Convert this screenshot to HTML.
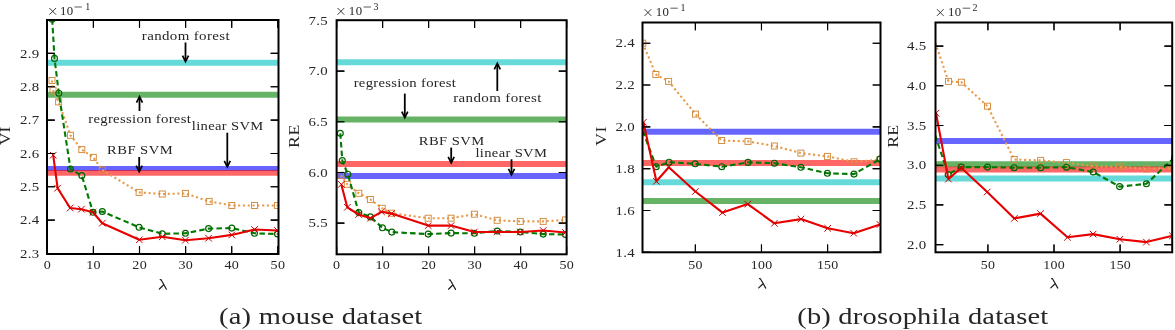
<!DOCTYPE html><html><head><meta charset="utf-8"><style>html,body{margin:0;padding:0;background:#fff;width:1175px;height:330px;overflow:hidden}svg{display:block;will-change:transform}text{font-family:"Liberation Serif", serif;fill:#262626}</style></head><body>
<svg width="1175" height="330" viewBox="0 0 1175 330">
<rect width="1175" height="330" fill="#fff"/>
<clipPath id="c1"><rect x="47" y="20" width="231.5" height="234"/></clipPath>
<path d="M47.3 254L47.3 246.2M47.3 20L47.3 27.8M93.4 254L93.4 246.2M93.4 20L93.4 27.8M139.5 254L139.5 246.2M139.5 20L139.5 27.8M185.6 254L185.6 246.2M185.6 20L185.6 27.8M231.7 254L231.7 246.2M231.7 20L231.7 27.8M277.8 254L277.8 246.2M277.8 20L277.8 27.8M47 253.5L54.8 253.5M278.5 253.5L270.7 253.5M47 220.15L54.8 220.15M278.5 220.15L270.7 220.15M47 186.8L54.8 186.8M278.5 186.8L270.7 186.8M47 153.45L54.8 153.45M278.5 153.45L270.7 153.45M47 120.1L54.8 120.1M278.5 120.1L270.7 120.1M47 86.75L54.8 86.75M278.5 86.75L270.7 86.75M47 53.4L54.8 53.4M278.5 53.4L270.7 53.4" stroke="#000" stroke-width="1.1" fill="none"/>
<line x1="47" y1="62.8" x2="278.5" y2="62.8" stroke="#00bfbf" stroke-opacity="0.6" stroke-width="6"/>
<line x1="47" y1="94.8" x2="278.5" y2="94.8" stroke="#008000" stroke-opacity="0.6" stroke-width="6"/>
<line x1="47" y1="168.5" x2="278.5" y2="168.5" stroke="#0000ff" stroke-opacity="0.6" stroke-width="5"/>
<line x1="47" y1="172.8" x2="278.5" y2="172.8" stroke="#ff0000" stroke-opacity="0.6" stroke-width="5.8"/>
<polyline points="52,80.5 53,90.2 58.6,101.9 70.5,135.3 81.8,149.6 93.3,157.4 102.3,170 139.1,192.4 162.3,194 185.4,193.4 209.2,201.4 231.8,205.5 254.5,205.5 277.5,205.5" fill="none" stroke="#e79a48" stroke-width="2.1" stroke-dasharray="2.1,2.7" stroke-linecap="butt" stroke-linejoin="round" clip-path="url(#c1)"/>
<g fill="none" stroke="#d38a3c" stroke-width="0.95" clip-path="url(#c1)">
<rect x="49" y="77.5" width="6" height="6"/>
<rect x="50" y="87.2" width="6" height="6"/>
<rect x="55.6" y="98.9" width="6" height="6"/>
<rect x="67.5" y="132.3" width="6" height="6"/>
<rect x="78.8" y="146.6" width="6" height="6"/>
<rect x="90.3" y="154.4" width="6" height="6"/>
<rect x="99.3" y="167" width="6" height="6"/>
<rect x="136.1" y="189.4" width="6" height="6"/>
<rect x="159.3" y="191" width="6" height="6"/>
<rect x="182.4" y="190.4" width="6" height="6"/>
<rect x="206.2" y="198.4" width="6" height="6"/>
<rect x="228.8" y="202.5" width="6" height="6"/>
<rect x="251.5" y="202.5" width="6" height="6"/>
<rect x="274.5" y="202.5" width="6" height="6"/>
</g>
<polyline points="52.2,19.2 54.5,58.4 58.8,93.2 70.5,169 81.8,175.6 93,212.3 102.3,211.5 139.1,227.3 162.3,233.8 185.4,233.3 208.6,228.6 231.8,228.1 254.5,233.3 277.5,234" fill="none" stroke="#007a00" stroke-width="2.1" stroke-dasharray="5.5,3.2" stroke-linecap="butt" stroke-linejoin="round" clip-path="url(#c1)"/>
<g fill="none" stroke="#006400" stroke-width="1.2" clip-path="url(#c1)">
<circle cx="52.2" cy="19.2" r="2.95"/>
<circle cx="54.5" cy="58.4" r="2.95"/>
<circle cx="58.8" cy="93.2" r="2.95"/>
<circle cx="70.5" cy="169" r="2.95"/>
<circle cx="81.8" cy="175.6" r="2.95"/>
<circle cx="93" cy="212.3" r="2.95"/>
<circle cx="102.3" cy="211.5" r="2.95"/>
<circle cx="139.1" cy="227.3" r="2.95"/>
<circle cx="162.3" cy="233.8" r="2.95"/>
<circle cx="185.4" cy="233.3" r="2.95"/>
<circle cx="208.6" cy="228.6" r="2.95"/>
<circle cx="231.8" cy="228.1" r="2.95"/>
<circle cx="254.5" cy="233.3" r="2.95"/>
<circle cx="277.5" cy="234" r="2.95"/>
</g>
<polyline points="53.2,155.2 57.6,188.2 70.2,208 81.4,209.2 93,212.3 102.3,223.2 139.3,239.8 162.3,236.8 185.4,240.2 208.6,238.2 231.8,234.9 254.5,229.5 277.5,230.5" fill="none" stroke="#e80000" stroke-width="2.1" stroke-linecap="butt" stroke-linejoin="round" clip-path="url(#c1)"/>
<path d="M49.9 151.9L56.5 158.5M49.9 158.5L56.5 151.9M54.3 184.9L60.9 191.5M54.3 191.5L60.9 184.9M66.9 204.7L73.5 211.3M66.9 211.3L73.5 204.7M78.1 205.9L84.7 212.5M78.1 212.5L84.7 205.9M89.7 209L96.3 215.6M89.7 215.6L96.3 209M99 219.9L105.6 226.5M99 226.5L105.6 219.9M136 236.5L142.6 243.1M136 243.1L142.6 236.5M159 233.5L165.6 240.1M159 240.1L165.6 233.5M182.1 236.9L188.7 243.5M182.1 243.5L188.7 236.9M205.3 234.9L211.9 241.5M205.3 241.5L211.9 234.9M228.5 231.6L235.1 238.2M228.5 238.2L235.1 231.6M251.2 226.2L257.8 232.8M251.2 232.8L257.8 226.2M274.2 227.2L280.8 233.8M274.2 233.8L280.8 227.2" stroke="#c80000" stroke-width="1" fill="none" clip-path="url(#c1)"/>
<clipPath id="c1b"><rect x="47" y="20" width="231.5" height="234"/></clipPath>
<path d="M47.3 254L47.3 246.2M47.3 20L47.3 27.8M93.4 254L93.4 246.2M93.4 20L93.4 27.8M139.5 254L139.5 246.2M139.5 20L139.5 27.8M185.6 254L185.6 246.2M185.6 20L185.6 27.8M231.7 254L231.7 246.2M231.7 20L231.7 27.8M277.8 254L277.8 246.2M277.8 20L277.8 27.8M47 253.5L54.8 253.5M278.5 253.5L270.7 253.5M47 220.15L54.8 220.15M278.5 220.15L270.7 220.15M47 186.8L54.8 186.8M278.5 186.8L270.7 186.8M47 153.45L54.8 153.45M278.5 153.45L270.7 153.45M47 120.1L54.8 120.1M278.5 120.1L270.7 120.1M47 86.75L54.8 86.75M278.5 86.75L270.7 86.75M47 53.4L54.8 53.4M278.5 53.4L270.7 53.4" stroke="#000" stroke-width="1.1" fill="none"/>
<rect x="47" y="20" width="231.5" height="234" fill="none" stroke="#000" stroke-width="2"/>
<text transform="translate(47.3 269.4) scale(1.1355 1)" x="0" y="0" font-size="12.4" text-anchor="middle" textLength="6.34" lengthAdjust="spacing">0</text>
<text transform="translate(93.4 269.4) scale(1.1355 1)" x="0" y="0" font-size="12.4" text-anchor="middle" textLength="12.68" lengthAdjust="spacing">10</text>
<text transform="translate(139.5 269.4) scale(1.1355 1)" x="0" y="0" font-size="12.4" text-anchor="middle" textLength="12.68" lengthAdjust="spacing">20</text>
<text transform="translate(185.6 269.4) scale(1.1355 1)" x="0" y="0" font-size="12.4" text-anchor="middle" textLength="12.68" lengthAdjust="spacing">30</text>
<text transform="translate(231.7 269.4) scale(1.1355 1)" x="0" y="0" font-size="12.4" text-anchor="middle" textLength="12.68" lengthAdjust="spacing">40</text>
<text transform="translate(277.8 269.4) scale(1.1355 1)" x="0" y="0" font-size="12.4" text-anchor="middle" textLength="12.68" lengthAdjust="spacing">50</text>
<text transform="translate(39.3 257.7) scale(1.1996 1)" x="0" y="0" font-size="12.4" text-anchor="end" textLength="16.01" lengthAdjust="spacing">2.3</text>
<text transform="translate(39.3 224.35) scale(1.1996 1)" x="0" y="0" font-size="12.4" text-anchor="end" textLength="16.01" lengthAdjust="spacing">2.4</text>
<text transform="translate(39.3 191) scale(1.1996 1)" x="0" y="0" font-size="12.4" text-anchor="end" textLength="16.01" lengthAdjust="spacing">2.5</text>
<text transform="translate(39.3 157.65) scale(1.1996 1)" x="0" y="0" font-size="12.4" text-anchor="end" textLength="16.01" lengthAdjust="spacing">2.6</text>
<text transform="translate(39.3 124.3) scale(1.1996 1)" x="0" y="0" font-size="12.4" text-anchor="end" textLength="16.01" lengthAdjust="spacing">2.7</text>
<text transform="translate(39.3 90.95) scale(1.1996 1)" x="0" y="0" font-size="12.4" text-anchor="end" textLength="16.01" lengthAdjust="spacing">2.8</text>
<text transform="translate(39.3 57.6) scale(1.1996 1)" x="0" y="0" font-size="12.4" text-anchor="end" textLength="16.01" lengthAdjust="spacing">2.9</text>
<g transform="translate(10 135.9) rotate(-90)">
<text transform="translate(0 0) scale(1.2327 1)" x="0" y="0" font-size="14.3" text-anchor="middle" textLength="15.09" lengthAdjust="spacing">VI</text>
</g>
<text transform="translate(185.7 39.8) scale(1.1672 1)" x="0" y="0" font-size="12.8" text-anchor="middle" textLength="75.22" lengthAdjust="spacing">random forest</text>
<path d="M185.5 42.5L185.5 60.4" stroke="#000" stroke-width="1.8" fill="none"/>
<path d="M182.5 55.6L185.5 61.6L188.5 55.6" stroke="#000" stroke-width="1.7" fill="none" stroke-linejoin="miter" stroke-miterlimit="10"/>
<text transform="translate(139.5 123.3) scale(1.1529 1)" x="0" y="0" font-size="12.8" text-anchor="middle" textLength="89.08" lengthAdjust="spacing">regression forest</text>
<path d="M139.5 111L139.5 97.9" stroke="#000" stroke-width="1.8" fill="none"/>
<path d="M136.5 102.7L139.5 96.7L142.5 102.7" stroke="#000" stroke-width="1.7" fill="none" stroke-linejoin="miter" stroke-miterlimit="10"/>
<text transform="translate(227.5 130.1) scale(1.1394 1)" x="0" y="0" font-size="12.8" text-anchor="middle" textLength="62.75" lengthAdjust="spacing">linear SVM</text>
<path d="M227.3 132.7L227.3 165.7" stroke="#000" stroke-width="1.8" fill="none"/>
<path d="M224.3 160.9L227.3 166.9L230.3 160.9" stroke="#000" stroke-width="1.7" fill="none" stroke-linejoin="miter" stroke-miterlimit="10"/>
<text transform="translate(139.8 154.1) scale(1.1392 1)" x="0" y="0" font-size="12.8" text-anchor="middle" textLength="57.59" lengthAdjust="spacing">RBF SVM</text>
<path d="M139.2 157L139.2 170.4" stroke="#000" stroke-width="1.8" fill="none"/>
<path d="M136.2 165.6L139.2 171.6L142.2 165.6" stroke="#000" stroke-width="1.7" fill="none" stroke-linejoin="miter" stroke-miterlimit="10"/>
<clipPath id="c2"><rect x="336.6" y="20.2" width="230" height="234.1"/></clipPath>
<path d="M336.6 254.3L336.6 246.5M336.6 20.2L336.6 28M382.6 254.3L382.6 246.5M382.6 20.2L382.6 28M428.6 254.3L428.6 246.5M428.6 20.2L428.6 28M474.6 254.3L474.6 246.5M474.6 20.2L474.6 28M520.6 254.3L520.6 246.5M520.6 20.2L520.6 28M566.6 254.3L566.6 246.5M566.6 20.2L566.6 28M336.6 223.1L344.4 223.1M566.6 223.1L558.8 223.1M336.6 172.45L344.4 172.45M566.6 172.45L558.8 172.45M336.6 121.8L344.4 121.8M566.6 121.8L558.8 121.8M336.6 71.15L344.4 71.15M566.6 71.15L558.8 71.15M336.6 20.5L344.4 20.5M566.6 20.5L558.8 20.5" stroke="#000" stroke-width="1.1" fill="none"/>
<line x1="336.6" y1="62.3" x2="566.6" y2="62.3" stroke="#00bfbf" stroke-opacity="0.6" stroke-width="6"/>
<line x1="336.6" y1="119.5" x2="566.6" y2="119.5" stroke="#008000" stroke-opacity="0.6" stroke-width="6"/>
<line x1="336.6" y1="163.9" x2="566.6" y2="163.9" stroke="#ff0000" stroke-opacity="0.6" stroke-width="6"/>
<line x1="336.6" y1="176" x2="566.6" y2="176" stroke="#0000ff" stroke-opacity="0.6" stroke-width="6"/>
<polyline points="340.8,175.3 347.3,184.3 358.8,193.3 370.4,199.5 382.2,208.3 391.3,213.2 428.2,218.2 451.1,218.2 474.4,214.2 497.2,220.3 520.3,221.4 543.2,221.4 565.5,219.9" fill="none" stroke="#e79a48" stroke-width="2.1" stroke-dasharray="2.1,2.7" stroke-linecap="butt" stroke-linejoin="round" clip-path="url(#c2)"/>
<g fill="none" stroke="#d38a3c" stroke-width="0.95" clip-path="url(#c2)">
<rect x="337.8" y="172.3" width="6" height="6"/>
<rect x="344.3" y="181.3" width="6" height="6"/>
<rect x="355.8" y="190.3" width="6" height="6"/>
<rect x="367.4" y="196.5" width="6" height="6"/>
<rect x="379.2" y="205.3" width="6" height="6"/>
<rect x="388.3" y="210.2" width="6" height="6"/>
<rect x="425.2" y="215.2" width="6" height="6"/>
<rect x="448.1" y="215.2" width="6" height="6"/>
<rect x="471.4" y="211.2" width="6" height="6"/>
<rect x="494.2" y="217.3" width="6" height="6"/>
<rect x="517.3" y="218.4" width="6" height="6"/>
<rect x="540.2" y="218.4" width="6" height="6"/>
<rect x="562.5" y="216.9" width="6" height="6"/>
</g>
<polyline points="340.3,133.3 342.3,160.6 347.8,174.2 358.8,212.6 370.4,216.9 382.4,227.8 391.8,232.1 428.2,234.1 451.1,233.1 474.4,233.3 497.2,231 520.3,232 543.2,234.1 565.5,234.5" fill="none" stroke="#007a00" stroke-width="2.1" stroke-dasharray="5.5,3.2" stroke-linecap="butt" stroke-linejoin="round" clip-path="url(#c2)"/>
<g fill="none" stroke="#006400" stroke-width="1.2" clip-path="url(#c2)">
<circle cx="340.3" cy="133.3" r="2.95"/>
<circle cx="342.3" cy="160.6" r="2.95"/>
<circle cx="347.8" cy="174.2" r="2.95"/>
<circle cx="358.8" cy="212.6" r="2.95"/>
<circle cx="370.4" cy="216.9" r="2.95"/>
<circle cx="382.4" cy="227.8" r="2.95"/>
<circle cx="391.8" cy="232.1" r="2.95"/>
<circle cx="428.2" cy="234.1" r="2.95"/>
<circle cx="451.1" cy="233.1" r="2.95"/>
<circle cx="474.4" cy="233.3" r="2.95"/>
<circle cx="497.2" cy="231" r="2.95"/>
<circle cx="520.3" cy="232" r="2.95"/>
<circle cx="543.2" cy="234.1" r="2.95"/>
<circle cx="565.5" cy="234.5" r="2.95"/>
</g>
<polyline points="341.3,184.4 347.3,207.3 358.7,214.5 370.5,218.2 381.5,211.8 391.5,213.6 428.2,225.6 451.1,225.6 474.4,232 497.2,232 520.3,232 543.2,230.5 565.5,232.5" fill="none" stroke="#e80000" stroke-width="2.1" stroke-linecap="butt" stroke-linejoin="round" clip-path="url(#c2)"/>
<path d="M338 181.1L344.6 187.7M338 187.7L344.6 181.1M344 204L350.6 210.6M344 210.6L350.6 204M355.4 211.2L362 217.8M355.4 217.8L362 211.2M367.2 214.9L373.8 221.5M367.2 221.5L373.8 214.9M378.2 208.5L384.8 215.1M378.2 215.1L384.8 208.5M388.2 210.3L394.8 216.9M388.2 216.9L394.8 210.3M424.9 222.3L431.5 228.9M424.9 228.9L431.5 222.3M447.8 222.3L454.4 228.9M447.8 228.9L454.4 222.3M471.1 228.7L477.7 235.3M471.1 235.3L477.7 228.7M493.9 228.7L500.5 235.3M493.9 235.3L500.5 228.7M517 228.7L523.6 235.3M517 235.3L523.6 228.7M539.9 227.2L546.5 233.8M539.9 233.8L546.5 227.2M562.2 229.2L568.8 235.8M562.2 235.8L568.8 229.2" stroke="#c80000" stroke-width="1" fill="none" clip-path="url(#c2)"/>
<clipPath id="c2b"><rect x="336.6" y="20.2" width="230" height="234.1"/></clipPath>
<path d="M336.6 254.3L336.6 246.5M336.6 20.2L336.6 28M382.6 254.3L382.6 246.5M382.6 20.2L382.6 28M428.6 254.3L428.6 246.5M428.6 20.2L428.6 28M474.6 254.3L474.6 246.5M474.6 20.2L474.6 28M520.6 254.3L520.6 246.5M520.6 20.2L520.6 28M566.6 254.3L566.6 246.5M566.6 20.2L566.6 28M336.6 223.1L344.4 223.1M566.6 223.1L558.8 223.1M336.6 172.45L344.4 172.45M566.6 172.45L558.8 172.45M336.6 121.8L344.4 121.8M566.6 121.8L558.8 121.8M336.6 71.15L344.4 71.15M566.6 71.15L558.8 71.15M336.6 20.5L344.4 20.5M566.6 20.5L558.8 20.5" stroke="#000" stroke-width="1.1" fill="none"/>
<rect x="336.6" y="20.2" width="230" height="234.1" fill="none" stroke="#000" stroke-width="2"/>
<text transform="translate(336.6 269.4) scale(1.1355 1)" x="0" y="0" font-size="12.4" text-anchor="middle" textLength="6.34" lengthAdjust="spacing">0</text>
<text transform="translate(382.6 269.4) scale(1.1355 1)" x="0" y="0" font-size="12.4" text-anchor="middle" textLength="12.68" lengthAdjust="spacing">10</text>
<text transform="translate(428.6 269.4) scale(1.1355 1)" x="0" y="0" font-size="12.4" text-anchor="middle" textLength="12.68" lengthAdjust="spacing">20</text>
<text transform="translate(474.6 269.4) scale(1.1355 1)" x="0" y="0" font-size="12.4" text-anchor="middle" textLength="12.68" lengthAdjust="spacing">30</text>
<text transform="translate(520.6 269.4) scale(1.1355 1)" x="0" y="0" font-size="12.4" text-anchor="middle" textLength="12.68" lengthAdjust="spacing">40</text>
<text transform="translate(566.6 269.4) scale(1.1355 1)" x="0" y="0" font-size="12.4" text-anchor="middle" textLength="12.68" lengthAdjust="spacing">50</text>
<text transform="translate(327.8 227.3) scale(1.1996 1)" x="0" y="0" font-size="12.4" text-anchor="end" textLength="16.01" lengthAdjust="spacing">5.5</text>
<text transform="translate(327.8 176.65) scale(1.1996 1)" x="0" y="0" font-size="12.4" text-anchor="end" textLength="16.01" lengthAdjust="spacing">6.0</text>
<text transform="translate(327.8 126) scale(1.1996 1)" x="0" y="0" font-size="12.4" text-anchor="end" textLength="16.01" lengthAdjust="spacing">6.5</text>
<text transform="translate(327.8 75.35) scale(1.1996 1)" x="0" y="0" font-size="12.4" text-anchor="end" textLength="16.01" lengthAdjust="spacing">7.0</text>
<text transform="translate(327.8 24.7) scale(1.1996 1)" x="0" y="0" font-size="12.4" text-anchor="end" textLength="16.01" lengthAdjust="spacing">7.5</text>
<g transform="translate(299.1 136.2) rotate(-90)">
<text transform="translate(0 0) scale(1.2500 1)" x="0" y="0" font-size="14.3" text-anchor="middle" textLength="18.8" lengthAdjust="spacing">RE</text>
</g>
<text transform="translate(404.8 87.4) scale(1.1496 1)" x="0" y="0" font-size="12.8" text-anchor="middle" textLength="88.99" lengthAdjust="spacing">regression forest</text>
<path d="M404.8 93.6L404.8 116.4" stroke="#000" stroke-width="1.8" fill="none"/>
<path d="M401.8 111.6L404.8 117.6L407.8 111.6" stroke="#000" stroke-width="1.7" fill="none" stroke-linejoin="miter" stroke-miterlimit="10"/>
<text transform="translate(497.3 102.4) scale(1.1722 1)" x="0" y="0" font-size="12.8" text-anchor="middle" textLength="75.33" lengthAdjust="spacing">random forest</text>
<path d="M497.3 91L497.3 64.6" stroke="#000" stroke-width="1.8" fill="none"/>
<path d="M494.3 69.4L497.3 63.4L500.3 69.4" stroke="#000" stroke-width="1.7" fill="none" stroke-linejoin="miter" stroke-miterlimit="10"/>
<text transform="translate(451.5 145) scale(1.1392 1)" x="0" y="0" font-size="12.8" text-anchor="middle" textLength="57.59" lengthAdjust="spacing">RBF SVM</text>
<path d="M451.2 147.6L451.2 161.6" stroke="#000" stroke-width="1.8" fill="none"/>
<path d="M448.2 156.8L451.2 162.8L454.2 156.8" stroke="#000" stroke-width="1.7" fill="none" stroke-linejoin="miter" stroke-miterlimit="10"/>
<text transform="translate(511.2 156.7) scale(1.1394 1)" x="0" y="0" font-size="12.8" text-anchor="middle" textLength="62.75" lengthAdjust="spacing">linear SVM</text>
<path d="M511.5 159.3L511.5 173.7" stroke="#000" stroke-width="1.8" fill="none"/>
<path d="M508.5 168.9L511.5 174.9L514.5 168.9" stroke="#000" stroke-width="1.7" fill="none" stroke-linejoin="miter" stroke-miterlimit="10"/>
<clipPath id="c3"><rect x="642.5" y="22.5" width="238" height="229.8"/></clipPath>
<path d="M695.38 252.3L695.38 244.5M695.38 22.5L695.38 30.3M761.48 252.3L761.48 244.5M761.48 22.5L761.48 30.3M827.58 252.3L827.58 244.5M827.58 22.5L827.58 30.3M642.5 252.3L650.3 252.3M880.5 252.3L872.7 252.3M642.5 210.48L650.3 210.48M880.5 210.48L872.7 210.48M642.5 168.66L650.3 168.66M880.5 168.66L872.7 168.66M642.5 126.84L650.3 126.84M880.5 126.84L872.7 126.84M642.5 85.02L650.3 85.02M880.5 85.02L872.7 85.02M642.5 43.2L650.3 43.2M880.5 43.2L872.7 43.2" stroke="#000" stroke-width="1.1" fill="none"/>
<line x1="642.5" y1="131.8" x2="880.5" y2="131.8" stroke="#0000ff" stroke-opacity="0.6" stroke-width="6"/>
<line x1="642.5" y1="162.9" x2="880.5" y2="162.9" stroke="#ff0000" stroke-opacity="0.6" stroke-width="6"/>
<line x1="642.5" y1="182.3" x2="880.5" y2="182.3" stroke="#00bfbf" stroke-opacity="0.6" stroke-width="6"/>
<line x1="642.5" y1="201" x2="880.5" y2="201" stroke="#008000" stroke-opacity="0.6" stroke-width="6"/>
<polyline points="642.8,43.2 655.8,74.5 668.6,81.4 695.5,114.1 721.6,140.5 748,141.4 774.4,146 800.9,153.1 827.4,156.4 854,161.8 880,159.6" fill="none" stroke="#e79a48" stroke-width="2.1" stroke-dasharray="2.1,2.7" stroke-linecap="butt" stroke-linejoin="round" clip-path="url(#c3)"/>
<g fill="none" stroke="#d38a3c" stroke-width="0.95" clip-path="url(#c3)">
<rect x="639.8" y="40.2" width="6" height="6"/>
<rect x="652.8" y="71.5" width="6" height="6"/>
<rect x="665.6" y="78.4" width="6" height="6"/>
<rect x="692.5" y="111.1" width="6" height="6"/>
<rect x="718.6" y="137.5" width="6" height="6"/>
<rect x="745" y="138.4" width="6" height="6"/>
<rect x="771.4" y="143" width="6" height="6"/>
<rect x="797.9" y="150.1" width="6" height="6"/>
<rect x="824.4" y="153.4" width="6" height="6"/>
<rect x="851" y="158.8" width="6" height="6"/>
<rect x="877" y="156.6" width="6" height="6"/>
</g>
<polyline points="642.8,131 656.2,166.7 669.1,162.2 695.2,163.8 721.8,166.7 748,162.4 774.4,163.2 800.9,167.3 827.4,173.3 854,174.1 880,159.1" fill="none" stroke="#007a00" stroke-width="2.1" stroke-dasharray="5.5,3.2" stroke-linecap="butt" stroke-linejoin="round" clip-path="url(#c3)"/>
<g fill="none" stroke="#006400" stroke-width="1.2" clip-path="url(#c3)">
<circle cx="642.8" cy="131" r="2.95"/>
<circle cx="656.2" cy="166.7" r="2.95"/>
<circle cx="669.1" cy="162.2" r="2.95"/>
<circle cx="695.2" cy="163.8" r="2.95"/>
<circle cx="721.8" cy="166.7" r="2.95"/>
<circle cx="748" cy="162.4" r="2.95"/>
<circle cx="774.4" cy="163.2" r="2.95"/>
<circle cx="800.9" cy="167.3" r="2.95"/>
<circle cx="827.4" cy="173.3" r="2.95"/>
<circle cx="854" cy="174.1" r="2.95"/>
<circle cx="880" cy="159.1" r="2.95"/>
</g>
<polyline points="643.4,122.3 656.4,181.3 668.8,167.3 695.4,191.5 722.5,212.6 747.8,204.1 774.4,223.3 801,219.1 827.7,228.3 853.7,233.2 880,224.5" fill="none" stroke="#e80000" stroke-width="2.1" stroke-linecap="butt" stroke-linejoin="round" clip-path="url(#c3)"/>
<path d="M640.1 119L646.7 125.6M640.1 125.6L646.7 119M653.1 178L659.7 184.6M653.1 184.6L659.7 178M665.5 164L672.1 170.6M665.5 170.6L672.1 164M692.1 188.2L698.7 194.8M692.1 194.8L698.7 188.2M719.2 209.3L725.8 215.9M719.2 215.9L725.8 209.3M744.5 200.8L751.1 207.4M744.5 207.4L751.1 200.8M771.1 220L777.7 226.6M771.1 226.6L777.7 220M797.7 215.8L804.3 222.4M797.7 222.4L804.3 215.8M824.4 225L831 231.6M824.4 231.6L831 225M850.4 229.9L857 236.5M850.4 236.5L857 229.9M876.7 221.2L883.3 227.8M876.7 227.8L883.3 221.2" stroke="#c80000" stroke-width="1" fill="none" clip-path="url(#c3)"/>
<clipPath id="c3b"><rect x="642.5" y="22.5" width="238" height="229.8"/></clipPath>
<path d="M695.38 252.3L695.38 244.5M695.38 22.5L695.38 30.3M761.48 252.3L761.48 244.5M761.48 22.5L761.48 30.3M827.58 252.3L827.58 244.5M827.58 22.5L827.58 30.3M642.5 252.3L650.3 252.3M880.5 252.3L872.7 252.3M642.5 210.48L650.3 210.48M880.5 210.48L872.7 210.48M642.5 168.66L650.3 168.66M880.5 168.66L872.7 168.66M642.5 126.84L650.3 126.84M880.5 126.84L872.7 126.84M642.5 85.02L650.3 85.02M880.5 85.02L872.7 85.02M642.5 43.2L650.3 43.2M880.5 43.2L872.7 43.2" stroke="#000" stroke-width="1.1" fill="none"/>
<rect x="642.5" y="22.5" width="238" height="229.8" fill="none" stroke="#000" stroke-width="2"/>
<text transform="translate(695.38 268.9) scale(1.1221 1)" x="0" y="0" font-size="12.4" text-anchor="middle" textLength="12.65" lengthAdjust="spacing">50</text>
<text transform="translate(761.48 268.9) scale(1.1221 1)" x="0" y="0" font-size="12.4" text-anchor="middle" textLength="18.98" lengthAdjust="spacing">100</text>
<text transform="translate(827.58 268.9) scale(1.1221 1)" x="0" y="0" font-size="12.4" text-anchor="middle" textLength="18.98" lengthAdjust="spacing">150</text>
<text transform="translate(634.8 256.5) scale(1.1996 1)" x="0" y="0" font-size="12.4" text-anchor="end" textLength="16.01" lengthAdjust="spacing">1.4</text>
<text transform="translate(634.8 214.68) scale(1.1996 1)" x="0" y="0" font-size="12.4" text-anchor="end" textLength="16.01" lengthAdjust="spacing">1.6</text>
<text transform="translate(634.8 172.86) scale(1.1996 1)" x="0" y="0" font-size="12.4" text-anchor="end" textLength="16.01" lengthAdjust="spacing">1.8</text>
<text transform="translate(634.8 131.04) scale(1.1996 1)" x="0" y="0" font-size="12.4" text-anchor="end" textLength="16.01" lengthAdjust="spacing">2.0</text>
<text transform="translate(634.8 89.22) scale(1.1996 1)" x="0" y="0" font-size="12.4" text-anchor="end" textLength="16.01" lengthAdjust="spacing">2.2</text>
<text transform="translate(634.8 47.4) scale(1.1996 1)" x="0" y="0" font-size="12.4" text-anchor="end" textLength="16.01" lengthAdjust="spacing">2.4</text>
<g transform="translate(606 136.3) rotate(-90)">
<text transform="translate(0 0) scale(1.2500 1)" x="0" y="0" font-size="14.3" text-anchor="middle" textLength="15.68" lengthAdjust="spacing">VI</text>
</g>
<clipPath id="c4"><rect x="935.5" y="22.5" width="236.7" height="229.8"/></clipPath>
<path d="M987.9 252.3L987.9 244.5M987.9 22.5L987.9 30.3M1054 252.3L1054 244.5M1054 22.5L1054 30.3M1120.1 252.3L1120.1 244.5M1120.1 22.5L1120.1 30.3M935.5 244.6L943.3 244.6M1172.2 244.6L1164.4 244.6M935.5 204.9L943.3 204.9M1172.2 204.9L1164.4 204.9M935.5 165.2L943.3 165.2M1172.2 165.2L1164.4 165.2M935.5 125.5L943.3 125.5M1172.2 125.5L1164.4 125.5M935.5 85.8L943.3 85.8M1172.2 85.8L1164.4 85.8M935.5 46.1L943.3 46.1M1172.2 46.1L1164.4 46.1" stroke="#000" stroke-width="1.1" fill="none"/>
<line x1="935.5" y1="141" x2="1172.2" y2="141" stroke="#0000ff" stroke-opacity="0.6" stroke-width="6"/>
<line x1="935.5" y1="164.2" x2="1172.2" y2="164.2" stroke="#008000" stroke-opacity="0.6" stroke-width="6"/>
<line x1="935.5" y1="169.6" x2="1172.2" y2="169.6" stroke="#ff0000" stroke-opacity="0.6" stroke-width="6"/>
<line x1="935.5" y1="178.6" x2="1172.2" y2="178.6" stroke="#00bfbf" stroke-opacity="0.6" stroke-width="6"/>
<polyline points="932.3,34 948.5,81.4 961.4,82.2 987.5,106.2 1014.2,159.5 1040.6,160.4 1066.5,162.6 1093.2,166.1 1119.5,166.8 1146.4,169 1174,167.8" fill="none" stroke="#e79a48" stroke-width="2.1" stroke-dasharray="2.1,2.7" stroke-linecap="butt" stroke-linejoin="round" clip-path="url(#c4)"/>
<g fill="none" stroke="#d38a3c" stroke-width="0.95" clip-path="url(#c4)">
<rect x="929.3" y="31" width="6" height="6"/>
<rect x="945.5" y="78.4" width="6" height="6"/>
<rect x="958.4" y="79.2" width="6" height="6"/>
<rect x="984.5" y="103.2" width="6" height="6"/>
<rect x="1011.2" y="156.5" width="6" height="6"/>
<rect x="1037.6" y="157.4" width="6" height="6"/>
<rect x="1063.5" y="159.6" width="6" height="6"/>
<rect x="1090.2" y="163.1" width="6" height="6"/>
<rect x="1116.5" y="163.8" width="6" height="6"/>
<rect x="1143.4" y="166" width="6" height="6"/>
<rect x="1171" y="164.8" width="6" height="6"/>
</g>
<polyline points="932.5,127 948.2,174.5 961.1,167.1 987.5,167.1 1014.2,167.7 1040.6,167.7 1066.5,167.2 1093.2,172 1119.6,186.6 1146.4,183.8 1174.5,157.5" fill="none" stroke="#007a00" stroke-width="2.1" stroke-dasharray="5.5,3.2" stroke-linecap="butt" stroke-linejoin="round" clip-path="url(#c4)"/>
<g fill="none" stroke="#006400" stroke-width="1.2" clip-path="url(#c4)">
<circle cx="932.5" cy="127" r="2.95"/>
<circle cx="948.2" cy="174.5" r="2.95"/>
<circle cx="961.1" cy="167.1" r="2.95"/>
<circle cx="987.5" cy="167.1" r="2.95"/>
<circle cx="1014.2" cy="167.7" r="2.95"/>
<circle cx="1040.6" cy="167.7" r="2.95"/>
<circle cx="1066.5" cy="167.2" r="2.95"/>
<circle cx="1093.2" cy="172" r="2.95"/>
<circle cx="1119.6" cy="186.6" r="2.95"/>
<circle cx="1146.4" cy="183.8" r="2.95"/>
<circle cx="1174.5" cy="157.5" r="2.95"/>
</g>
<polyline points="936,113.2 948.4,179.1 961.2,167.8 987.2,192 1014.4,218.4 1040.5,213.6 1067.5,237.3 1093.1,234.1 1119.9,239.3 1146.4,242.1 1172.5,235.8" fill="none" stroke="#e80000" stroke-width="2.1" stroke-linecap="butt" stroke-linejoin="round" clip-path="url(#c4)"/>
<path d="M932.7 109.9L939.3 116.5M932.7 116.5L939.3 109.9M945.1 175.8L951.7 182.4M945.1 182.4L951.7 175.8M957.9 164.5L964.5 171.1M957.9 171.1L964.5 164.5M983.9 188.7L990.5 195.3M983.9 195.3L990.5 188.7M1011.1 215.1L1017.7 221.7M1011.1 221.7L1017.7 215.1M1037.2 210.3L1043.8 216.9M1037.2 216.9L1043.8 210.3M1064.2 234L1070.8 240.6M1064.2 240.6L1070.8 234M1089.8 230.8L1096.4 237.4M1089.8 237.4L1096.4 230.8M1116.6 236L1123.2 242.6M1116.6 242.6L1123.2 236M1143.1 238.8L1149.7 245.4M1143.1 245.4L1149.7 238.8M1169.2 232.5L1175.8 239.1M1169.2 239.1L1175.8 232.5" stroke="#c80000" stroke-width="1" fill="none" clip-path="url(#c4)"/>
<clipPath id="c4b"><rect x="935.5" y="22.5" width="236.7" height="229.8"/></clipPath>
<path d="M987.9 252.3L987.9 244.5M987.9 22.5L987.9 30.3M1054 252.3L1054 244.5M1054 22.5L1054 30.3M1120.1 252.3L1120.1 244.5M1120.1 22.5L1120.1 30.3M935.5 244.6L943.3 244.6M1172.2 244.6L1164.4 244.6M935.5 204.9L943.3 204.9M1172.2 204.9L1164.4 204.9M935.5 165.2L943.3 165.2M1172.2 165.2L1164.4 165.2M935.5 125.5L943.3 125.5M1172.2 125.5L1164.4 125.5M935.5 85.8L943.3 85.8M1172.2 85.8L1164.4 85.8M935.5 46.1L943.3 46.1M1172.2 46.1L1164.4 46.1" stroke="#000" stroke-width="1.1" fill="none"/>
<rect x="935.5" y="22.5" width="236.7" height="229.8" fill="none" stroke="#000" stroke-width="2"/>
<text transform="translate(987.9 268.9) scale(1.1221 1)" x="0" y="0" font-size="12.4" text-anchor="middle" textLength="12.65" lengthAdjust="spacing">50</text>
<text transform="translate(1054 268.9) scale(1.1221 1)" x="0" y="0" font-size="12.4" text-anchor="middle" textLength="18.98" lengthAdjust="spacing">100</text>
<text transform="translate(1120.1 268.9) scale(1.1221 1)" x="0" y="0" font-size="12.4" text-anchor="middle" textLength="18.98" lengthAdjust="spacing">150</text>
<text transform="translate(926.3 248.8) scale(1.1996 1)" x="0" y="0" font-size="12.4" text-anchor="end" textLength="16.01" lengthAdjust="spacing">2.0</text>
<text transform="translate(926.3 209.1) scale(1.1996 1)" x="0" y="0" font-size="12.4" text-anchor="end" textLength="16.01" lengthAdjust="spacing">2.5</text>
<text transform="translate(926.3 169.4) scale(1.1996 1)" x="0" y="0" font-size="12.4" text-anchor="end" textLength="16.01" lengthAdjust="spacing">3.0</text>
<text transform="translate(926.3 129.7) scale(1.1996 1)" x="0" y="0" font-size="12.4" text-anchor="end" textLength="16.01" lengthAdjust="spacing">3.5</text>
<text transform="translate(926.3 90) scale(1.1996 1)" x="0" y="0" font-size="12.4" text-anchor="end" textLength="16.01" lengthAdjust="spacing">4.0</text>
<text transform="translate(926.3 50.3) scale(1.1996 1)" x="0" y="0" font-size="12.4" text-anchor="end" textLength="16.01" lengthAdjust="spacing">4.5</text>
<g transform="translate(898 136.3) rotate(-90)">
<text transform="translate(0 0) scale(1.2478 1)" x="0" y="0" font-size="14.3" text-anchor="middle" textLength="18.27" lengthAdjust="spacing">RE</text>
</g>
<path d="M160.2 279.7Q161.1 279.5 161.7 280.8L166.4 289.2M163.2 285.3L159.4 289" stroke="#1e1e1e" stroke-width="1.2" fill="none" stroke-linecap="round" stroke-linejoin="round"/>
<path d="M449.3 279.9Q450.2 279.7 450.8 281L455.5 289.4M452.3 285.5L448.5 289.2" stroke="#1e1e1e" stroke-width="1.2" fill="none" stroke-linecap="round" stroke-linejoin="round"/>
<path d="M759.5 278.6Q760.4 278.4 761 279.7L765.7 288.1M762.5 284.2L758.7 287.9" stroke="#1e1e1e" stroke-width="1.2" fill="none" stroke-linecap="round" stroke-linejoin="round"/>
<path d="M1051.6 278.6Q1052.5 278.4 1053.1 279.7L1057.8 288.1M1054.6 284.2L1050.8 287.9" stroke="#1e1e1e" stroke-width="1.2" fill="none" stroke-linecap="round" stroke-linejoin="round"/>
<path d="M49.38 8.03L56.03 14.68M49.38 14.68L56.03 8.03" stroke="#222" stroke-width="0.9" fill="none"/>
<text transform="translate(60 14.8) scale(1.0357 1)" x="0" y="0" font-size="12.4" text-anchor="start" textLength="12.84" lengthAdjust="spacing">10</text>
<path d="M74.5 7L81.9 7" stroke="#333" stroke-width="0.8" fill="none"/>
<text transform="translate(85.3 10) scale(1.0000 1)" x="0" y="0" font-size="10" text-anchor="start" textLength="4.9" lengthAdjust="spacing">1</text>
<path d="M337.57 8.03L344.22 14.68M337.57 14.68L344.22 8.03" stroke="#222" stroke-width="0.9" fill="none"/>
<text transform="translate(348.8 14.8) scale(1.0357 1)" x="0" y="0" font-size="12.4" text-anchor="start" textLength="12.84" lengthAdjust="spacing">10</text>
<path d="M363.6 7L371 7" stroke="#333" stroke-width="0.8" fill="none"/>
<text transform="translate(373.5 10) scale(1.0000 1)" x="0" y="0" font-size="10" text-anchor="start" textLength="4.9" lengthAdjust="spacing">3</text>
<path d="M644.57 9.23L651.23 15.88M644.57 15.88L651.23 9.23" stroke="#222" stroke-width="0.9" fill="none"/>
<text transform="translate(655.7 16) scale(1.0357 1)" x="0" y="0" font-size="12.4" text-anchor="start" textLength="12.84" lengthAdjust="spacing">10</text>
<path d="M670.4 8.2L677.8 8.2" stroke="#333" stroke-width="0.8" fill="none"/>
<text transform="translate(680.5 11.2) scale(1.0000 1)" x="0" y="0" font-size="10" text-anchor="start" textLength="4.9" lengthAdjust="spacing">1</text>
<path d="M936.97 9.23L943.62 15.88M936.97 15.88L943.62 9.23" stroke="#222" stroke-width="0.9" fill="none"/>
<text transform="translate(948 16) scale(1.0357 1)" x="0" y="0" font-size="12.4" text-anchor="start" textLength="12.84" lengthAdjust="spacing">10</text>
<path d="M962.7 8.2L970.1 8.2" stroke="#333" stroke-width="0.8" fill="none"/>
<text transform="translate(972.4 11.2) scale(1.0000 1)" x="0" y="0" font-size="10" text-anchor="start" textLength="4.9" lengthAdjust="spacing">2</text>
<text transform="translate(219 324.2) scale(1.1877 1)" x="0" y="0" font-size="24" text-anchor="start" textLength="171.18" lengthAdjust="spacing">(a) mouse dataset</text>
<text transform="translate(797.2 324.2) scale(1.1845 1)" x="0" y="0" font-size="24" text-anchor="start" textLength="211.9" lengthAdjust="spacing">(b) drosophila dataset</text>
</svg></body></html>
